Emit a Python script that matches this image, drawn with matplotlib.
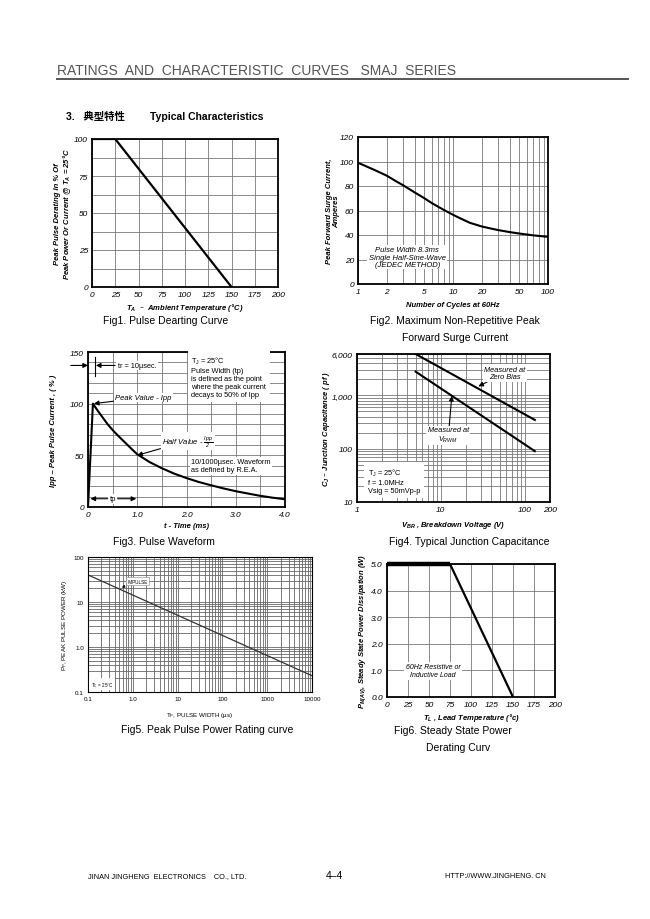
import matplotlib
matplotlib.use('Agg')
import matplotlib.pyplot as plt
from matplotlib.ticker import FixedLocator, NullFormatter, MultipleLocator

plt.rcParams['font.family'] = ['Liberation Sans', 'Noto Sans CJK SC', 'DejaVu Sans']
plt.rcParams['mathtext.default'] = 'regular'

W, H = 650, 920

# ---- data ----
fig1_temp = [0, 25, 150]
fig1_derating = [100, 100, 0]

fig2_cycles = [1, 1.5, 2, 2.5, 3, 4, 5, 6, 7, 8, 10, 12, 15, 20, 25, 30, 40, 50, 70, 100]
fig2_current = [99, 93, 88.5, 84, 80.5, 74.5, 70, 66, 63, 60.5, 56.5, 53.5, 50, 47, 45.3, 44,
                42.3, 41.2, 39.7, 38.5]

fig3_time = [0, 0.1, 0.15, 0.2, 0.3, 0.4, 0.5, 0.6, 0.75, 0.9, 1.0, 1.25, 1.5, 1.75, 2.0,
             2.25, 2.5, 2.75, 3.0, 3.25, 3.5, 3.75, 4.0]
fig3_ipp = [0, 100, 96.5, 93, 86.5, 80, 74.5, 69.5, 62.5, 55.5, 51, 43.5, 37.5, 32.3, 28,
            24.2, 21, 18, 15.3, 13, 10.8, 9, 7.5]

fig4_vbr = [5, 132]
fig4_zero_bias = [6000, 347]
fig4_vrwm = [2800, 90]

fig5_width = [0.1, 10000]
fig5_power = [40, 0.23]

fig6_temp = [0, 75, 150]
fig6_power = [5.0, 5.0, 0.0]

arrow = dict(arrowstyle='-|>', color='k', lw=0.8, mutation_scale=7, shrinkA=0, shrinkB=0)
white = dict(facecolor='white', edgecolor='none', pad=1.0)
lab = dict(fontsize=5.5, fontweight='bold', fontstyle='italic')

fig = plt.figure(figsize=(W / 100, H / 100), dpi=100, facecolor='white')


def px(x, y):
    return x / W, 1 - y / H


def make_ax(x0, y0, x1, y1):
    ax = fig.add_axes([x0 / W, 1 - y1 / H, (x1 - x0) / W, (y1 - y0) / H])
    for s in ax.spines.values():
        s.set_linewidth(1.3)
    ax.tick_params(which='both', length=0, labelsize=6, pad=3)
    ax.set_axisbelow(True)
    return ax


def italic_ticks(ax):
    for t in ax.get_xticklabels() + ax.get_yticklabels():
        t.set_fontstyle('italic')


# page header
fig.text(*px(57, 71), 'RATINGS  AND  CHARACTERISTIC  CURVES   SMAJ  SERIES',
         fontsize=10, color='#555555', va='center')
fig.add_artist(plt.Line2D([57 / W, 628 / W], [1 - 80 / H, 1 - 80 / H], color='#555555', lw=1.4))
fig.text(*px(66, 117), '3.   典型特性', fontsize=7.5, fontweight='bold', va='center')
fig.text(*px(150, 117), 'Typical Characteristics', fontsize=7.5, fontweight='bold', va='center')

# ---- Fig1 ----
ax1 = make_ax(92, 140, 278, 288)
ax1.plot(fig1_temp, fig1_derating, color='k', lw=1.6)
ax1.set_xlim(0, 200)
ax1.set_ylim(0, 100)
ax1.xaxis.set_major_locator(MultipleLocator(25))
ax1.yaxis.set_major_locator(MultipleLocator(25))
ax1.yaxis.set_minor_locator(MultipleLocator(12.5))
ax1.grid(True, which='both', color='#777777', lw=0.6)
italic_ticks(ax1)
ax1.set_xlabel('$T_A$  –  Ambient Temperature (°C)', labelpad=2, **lab)
ax1.set_ylabel('Peak Pulse Derating In % Of\nPeak Power Or Current @ $T_A$ = 25°C',
               labelpad=1, linespacing=1.0, **lab)
fig.text(*px(166, 321), 'Fig1. Pulse Dearting Curve', fontsize=7.5, ha='center', va='center')

# ---- Fig2 ----
ax2 = make_ax(358, 138, 548, 285)
ax2.plot(fig2_cycles, fig2_current, color='k', lw=1.5)
ax2.set_xscale('log')
ax2.set_xlim(1, 100)
ax2.set_ylim(0, 120)
ax2.xaxis.set_major_locator(FixedLocator([1, 2, 5, 10, 20, 50, 100]))
ax2.xaxis.set_major_formatter(plt.FixedFormatter(['1', '2', '5', '10', '20', '50', '100']))
ax2.xaxis.set_minor_locator(FixedLocator([3, 4, 6, 7, 8, 9, 30, 40, 60, 70, 80, 90]))
ax2.xaxis.set_minor_formatter(NullFormatter())
ax2.yaxis.set_major_locator(MultipleLocator(20))
ax2.grid(True, axis='x', which='both', color='#777777', lw=0.6)
ax2.grid(True, axis='y', which='major', color='#777777', lw=0.6)
italic_ticks(ax2)
ax2.text(3.3, 22, 'Pulse Width 8.3ms\nSingle Half-Sine-Wave\n(JEDEC METHOD)', fontsize=5.5,
         fontstyle='italic', ha='center', va='center', linespacing=1.1, bbox=white)
ax2.set_xlabel('Number of Cycles at 60Hz', labelpad=4, **lab)
ax2.set_ylabel('Peak Forward Surge Current,\nAmperes', labelpad=0, linespacing=1.0, **lab)
fig.text(*px(455, 321), 'Fig2. Maximum Non-Repetitive Peak', fontsize=7.5, ha='center', va='center')
fig.text(*px(455, 338), 'Forward Surge Current', fontsize=7.5, ha='center', va='center')

# ---- Fig3 ----
ax3 = make_ax(88, 353, 285, 508)
ax3.plot(fig3_time, fig3_ipp, color='k', lw=1.5)
ax3.set_xlim(0, 4)
ax3.set_ylim(0, 150)
ax3.xaxis.set_major_locator(FixedLocator([0, 1, 2, 3, 4]))
ax3.xaxis.set_major_formatter(plt.FixedFormatter(['0', '1.0', '2.0', '3.0', '4.0']))
ax3.xaxis.set_minor_locator(MultipleLocator(0.5))
ax3.yaxis.set_major_locator(MultipleLocator(50))
ax3.yaxis.set_minor_locator(MultipleLocator(10))
ax3.grid(True, which='both', color='#777777', lw=0.6)
italic_ticks(ax3)
ax3.text(2.1, 147, 'T$_J$ = 25°C\nPulse Width (tp)\nis defined as the point\nwhere the peak current\n'
         'decays to 50% of Ipp', fontsize=5.3, va='top', linespacing=1.2,
         bbox=dict(facecolor='white', edgecolor='none', pad=2.5))
ax3.text(2.1, 47, '10/1000µsec. Waveform\nas defined by R.E.A.', fontsize=5.3, va='top',
         linespacing=1.2, bbox=white)
ax3.plot([0.15, 0.15], [127, 145], color='k', lw=0.8)
ax3.annotate('', xy=(0, 137), xytext=(-0.35, 137), arrowprops=arrow, annotation_clip=False)
ax3.annotate('', xy=(0.16, 137), xytext=(0.55, 137), arrowprops=arrow)
ax3.text(0.6, 137, 'tr = 10µsec.', fontsize=5.3, va='center', bbox=white)
ax3.annotate('Peak Value - Ipp', xy=(0.12, 100), xytext=(0.55, 106), fontsize=5.5,
             fontstyle='italic', va='center', arrowprops=arrow, bbox=white)
ax3.annotate(r'Half Value - $\frac{Ipp}{2}$', xy=(1.0, 50), xytext=(1.5, 64), fontsize=5.5,
             fontstyle='italic', va='center', arrowprops=arrow, bbox=white)
ax3.text(0.5, 8, 'tp', fontsize=5.5, ha='center', va='center', bbox=white)
ax3.annotate('', xy=(0.05, 8), xytext=(0.4, 8), arrowprops=arrow)
ax3.annotate('', xy=(0.98, 8), xytext=(0.6, 8), arrowprops=arrow)
ax3.set_xlabel('t - Time (ms)', labelpad=3, **lab)
ax3.set_ylabel('Ipp – Peak Pulse Current , ( % )', labelpad=9, **lab)
fig.text(*px(164, 542), 'Fig3. Pulse Waveform', fontsize=7.5, ha='center', va='center')

# ---- Fig4 ----
ax4 = make_ax(357, 355, 550, 503)
ax4.plot(fig4_vbr, fig4_zero_bias, color='k', lw=1.5)
ax4.plot(fig4_vbr, fig4_vrwm, color='k', lw=1.5)
ax4.set_xscale('log')
ax4.set_yscale('log')
ax4.set_xlim(1, 200)
ax4.set_ylim(10, 6000)
ax4.xaxis.set_major_locator(FixedLocator([1, 10, 100, 200]))
ax4.xaxis.set_major_formatter(plt.FixedFormatter(['1', '10', '100', '200']))
ax4.xaxis.set_minor_locator(FixedLocator([2, 3, 4, 5, 6, 7, 8, 9, 20, 30, 40, 50, 60, 70, 80, 90]))
ax4.xaxis.set_minor_formatter(NullFormatter())
ax4.yaxis.set_major_locator(FixedLocator([10, 100, 1000, 6000]))
ax4.yaxis.set_major_formatter(plt.FixedFormatter(['10', '100', '1,000', '6,000']))
ax4.yaxis.set_minor_locator(FixedLocator([20, 30, 40, 50, 60, 70, 80, 90, 200, 300, 400, 500, 600,
                                          700, 800, 900, 2000, 3000, 4000, 5000]))
ax4.yaxis.set_minor_formatter(NullFormatter())
ax4.grid(True, which='both', color='#777777', lw=0.6)
italic_ticks(ax4)
ax4.text(1.35, 46, 'T$_J$ = 25°C\nf = 1.0MHz\nVsig = 50mVp-p', fontsize=5.3, va='top',
         linespacing=1.25, bbox=dict(facecolor='white', edgecolor='none', pad=2.5))
ax4.annotate('Measured at\nZero Bias', xy=(28, 1480), xytext=(58, 2650), fontsize=5.3,
             fontstyle='italic', ha='center', va='center', linespacing=1.1,
             arrowprops=arrow, bbox=white)
ax4.annotate('Measured at\nV$_{RWM}$', xy=(13.5, 980), xytext=(12.3, 180), fontsize=5.3,
             fontstyle='italic', ha='center', va='center', linespacing=1.1,
             arrowprops=arrow, bbox=white)
ax4.set_xlabel('V$_{BR}$ , Breakdown Voltage (V)', labelpad=4, **lab)
ax4.set_ylabel('C$_J$ – Junction Capacitance ( pf )', labelpad=0, **lab)
fig.text(*px(469, 542), 'Fig4. Typical Junction Capacitance', fontsize=7.5, ha='center', va='center')

# ---- Fig5 ----
ax5 = make_ax(88, 558, 312, 693)
ax5.plot(fig5_width, fig5_power, color='#333333', lw=0.9)
ax5.set_xscale('log')
ax5.set_yscale('log')
ax5.set_xlim(0.1, 10000)
ax5.set_ylim(0.1, 100)
ax5.xaxis.set_major_locator(FixedLocator([0.1, 1, 10, 100, 1000, 10000]))
ax5.xaxis.set_major_formatter(plt.FixedFormatter(['0.1', '1.0', '10', '100', '1000', '10000']))
ax5.yaxis.set_major_locator(FixedLocator([0.1, 1, 10, 100]))
ax5.yaxis.set_major_formatter(plt.FixedFormatter(['0.1', '1.0', '10', '100']))
for a in (ax5.xaxis, ax5.yaxis):
    a.set_minor_locator(matplotlib.ticker.LogLocator(base=10, subs=range(2, 10), numticks=20))
    a.set_minor_formatter(NullFormatter())
ax5.grid(True, which='both', color='#666666', lw=0.6)
for s in ax5.spines.values():
    s.set_linewidth(0.8)
ax5.tick_params(labelsize=4.5)
ax5.annotate('IMPULSE', xy=(0.5, 20), xytext=(0.75, 29), fontsize=3.3, va='center',
             arrowprops=dict(arrowstyle='-|>', color='k', lw=0.5, mutation_scale=4),
             bbox=dict(facecolor='white', edgecolor='#888888', lw=0.4, pad=1.2))
ax5.text(0.115, 0.148, 'T$_C$ = 25°C', fontsize=3.3, va='center',
         bbox=dict(facecolor='white', edgecolor='none', pad=1.2))
ax5.set_xlabel('T$_P$, PULSE WIDTH (µs)', fontsize=4.5, labelpad=6)
ax5.set_ylabel('P$_P$, PEAK PULSE POWER (kW)', fontsize=4.5, labelpad=3)
fig.text(*px(207, 730), 'Fig5. Peak Pulse Power Rating curve', fontsize=7.5, ha='center', va='center')

# ---- Fig6 ----
ax6 = make_ax(387, 565, 555, 698)
ax6.plot(fig6_temp[:2], fig6_power[:2], color='k', lw=3.2, solid_capstyle='butt', clip_on=False)
ax6.plot(fig6_temp[1:], fig6_power[1:], color='k', lw=1.6)
ax6.set_xlim(0, 200)
ax6.set_ylim(0, 5)
ax6.xaxis.set_major_locator(MultipleLocator(25))
ax6.yaxis.set_major_locator(MultipleLocator(1))
ax6.yaxis.set_major_formatter(matplotlib.ticker.FormatStrFormatter('%.1f'))
ax6.grid(True, which='major', color='#777777', lw=0.6)
italic_ticks(ax6)
ax6.text(55, 0.98, '60Hz Resistive or\nInductive Load', fontsize=5.0, fontstyle='italic',
         ha='center', va='center', linespacing=1.2, bbox=white)
ax6.set_xlabel('$T_L$ , Lead Temperature (°c)', labelpad=2, **lab)
ax6.set_ylabel('P$_{M(AV)}$, Steady State Power Dissipation (W)', labelpad=2, **lab)
fig.text(*px(453, 731), 'Fig6. Steady State Power', fontsize=7.5, ha='center', va='center')
fig.text(*px(458, 748), 'Derating Curv', fontsize=7.5, ha='center', va='center')

# footer
fig.text(*px(88, 877), 'JINAN JINGHENG  ELECTRONICS    CO., LTD.', fontsize=5.3, va='center')
fig.text(*px(334, 876), '4–4', fontsize=7.5, ha='center', va='center')
fig.text(*px(445, 877), 'HTTP://WWW.JINGHENG. CN', fontsize=5.3, va='center')

fig.savefig('out.png', dpi=100, facecolor='white')
